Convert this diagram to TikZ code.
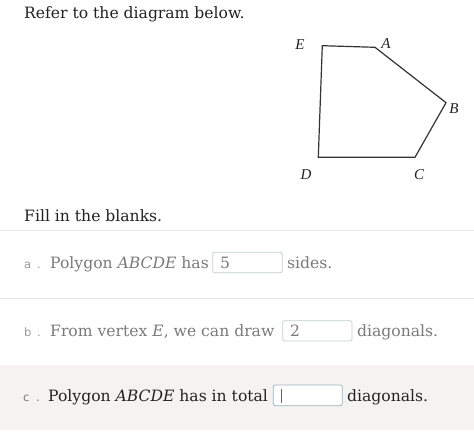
\documentclass[tikz,border=0pt]{standalone}
\usepackage{fontspec}
\setmainfont{DejaVu Serif}
\setsansfont{DejaVu Sans}
\newfontfamily\labfont{Liberation Serif}
\definecolor{txt}{HTML}{222222}
\definecolor{dim}{HTML}{7A7A7A}
\definecolor{lett}{HTML}{9A9A9A}
\definecolor{sep}{HTML}{E6E6E6}
\definecolor{band}{HTML}{F5F3F1}
\definecolor{boxb}{HTML}{C5CDD1}
\definecolor{boxc}{HTML}{9DB5C4}
\definecolor{poly}{HTML}{333333}
\begin{document}
\begin{tikzpicture}[x=1pt,y=-1pt,
  body/.style={anchor=base west,inner sep=0pt,font=\fontsize{15.6}{18}\selectfont},
  letter/.style={anchor=base west,inner sep=0pt,font=\sffamily\fontsize{11.5}{13}\selectfont},
  vlab/.style={inner sep=0pt,font=\labfont\itshape\fontsize{15}{17}\selectfont,text=txt},
  ansbox/.style={draw=boxb,line width=0.8pt,rounded corners=2pt,fill=white},
  sepline/.style={draw=sep,line width=1pt}]
\useasboundingbox (0,0) rectangle (474,436);
\fill[white] (0,0) rectangle (474,436);
% band for c
\fill[band] (0,365) rectangle (474,430);
% separators
\draw[sepline] (0,230) -- (474,230);
\draw[sepline] (0,298) -- (474,298);
% heading texts
\node[body,text=txt] (t1) at (24,19) {Refer to the diagram below.};
\node[body,text=txt] (t2) at (24,221) {Fill in the blanks.};
% polygon
\coordinate (E) at (322.3,45.7);
\coordinate (A) at (375,47.3);
\coordinate (B) at (446,102.7);
\coordinate (C) at (415,157.3);
\coordinate (D) at (318.3,157.3);
\draw[poly,line width=1.2pt,line join=miter] (E) -- (A) -- (B) -- (C) -- (D) -- cycle;
\node[vlab] (lE) at (300,44.7) {E};
\node[vlab] (lA) at (386,43.3) {A};
\node[vlab] (lB) at (454,109) {B};
\node[vlab] (lC) at (419,175) {C};
\node[vlab] (lD) at (306,175) {D};
% item a
\node[letter,text=lett] (la) at (24,268) {a};
\node[letter,text=lett] (la2) at (37,268) {.};
\node[body,text=dim] (qa1) at (50,268) {Polygon \textit{ABCDE} has};
\draw[ansbox] (212.7,252.3) rectangle (282.3,272.7);
\node[body,text=dim] (aa) at (220,268) {5};
\node[body,text=dim] (qa2) at (287,268) {sides.};
% item b
\node[letter,text=lett] (lb) at (24,336) {b};
\node[letter,text=lett] (lb2) at (37,336) {.};
\node[body,text=dim] (qb1) at (50,336) {From vertex \textit{E}, we can draw};
\draw[ansbox] (282.7,320.7) rectangle (352,341);
\node[body,text=dim] (ab) at (290,336) {2};
\node[body,text=dim] (qb2) at (357,336) {diagonals.};
% item c
\node[letter,text=dim] (lc) at (23,401) {c};
\node[letter,text=dim] (lc2) at (36,401) {.};
\node[body,text=txt] (qc1) at (48,401) {Polygon \textit{ABCDE} has in total};
\draw[ansbox,draw=boxc] (273.3,385) rectangle (342.3,405.7);
\draw[txt!70,line width=0.6pt] (281,388.5) -- (281,402.5);
\node[body,text=txt] (qc2) at (347,401) {diagonals.};
\end{tikzpicture}
\end{document}
